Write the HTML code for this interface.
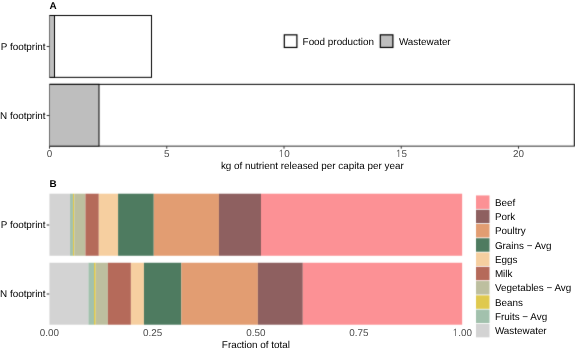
<!DOCTYPE html>
<html><head><meta charset="utf-8"><style>
html,body{margin:0;padding:0;background:#fff;overflow:hidden;}
svg{display:block;}
text{font-family:"Liberation Sans",Arial,sans-serif;text-rendering:geometricPrecision;font-size:9.9px;fill:#000;}
.ax{fill:#4D4D4D;}
.tag{font-weight:bold;}
.one{font-family:NanumGothic,"Liberation Sans",sans-serif;}
</style></head><body>
<svg width="575" height="351" viewBox="0 0 575 351">
<defs>
<filter id="bl" x="0" y="0" width="575" height="351" filterUnits="userSpaceOnUse" color-interpolation-filters="sRGB"><feConvolveMatrix order="3" kernelMatrix="0.0100 0.0800 0.0100 0.0800 0.6400 0.0800 0.0100 0.0800 0.0100" edgeMode="duplicate"/></filter>
<clipPath id="pa"><rect x="49.5" y="0" width="525.5" height="146.8"/></clipPath>
</defs>
<g filter="url(#bl)">
<rect width="575" height="351" fill="#fff"/>
<g stroke="#000" stroke-width="1" clip-path="url(#pa)">
<rect x="49.2" y="15.5" width="102.3" height="61.85" fill="#fff"/>
<rect x="49.2" y="15.5" width="5.3" height="61.85" fill="#BEBEBE"/>
<rect x="49.2" y="84.35" width="525.1" height="61.85" fill="#fff"/>
<rect x="49.2" y="84.35" width="49.8" height="61.85" fill="#BEBEBE"/>
</g>
<g stroke="#333" stroke-width="1">
<line x1="46.7" y1="46.5" x2="49.5" y2="46.5"/>
<line x1="46.7" y1="115.5" x2="49.5" y2="115.5"/>
<line x1="49.5" y1="146.2" x2="49.5" y2="148.7"/>
<line x1="166.75" y1="146.2" x2="166.75" y2="148.7"/>
<line x1="284" y1="146.2" x2="284" y2="148.7"/>
<line x1="401.25" y1="146.2" x2="401.25" y2="148.7"/>
<line x1="518.5" y1="146.2" x2="518.5" y2="148.7"/>
<line x1="46.7" y1="225" x2="49.5" y2="225"/>
<line x1="46.7" y1="294" x2="49.5" y2="294"/>
</g>
<rect x="284.3" y="34.85" width="12.6" height="12.6" fill="#fff" stroke="#000" stroke-width="1.2"/>
<rect x="380.3" y="34.85" width="12.6" height="12.6" fill="#BEBEBE" stroke="#000" stroke-width="1.2"/>
<rect x="49.45" y="193.7" width="20.6" height="62.05" fill="#D3D3D3"/>
<rect x="70.05" y="193.7" width="2.9" height="62.05" fill="#A2C1AD"/>
<rect x="72.95" y="193.7" width="1.3" height="62.05" fill="#DFC94E"/>
<rect x="74.25" y="193.7" width="11.2" height="62.05" fill="#BDBF9F"/>
<rect x="85.45" y="193.7" width="13.35" height="62.05" fill="#B56A5A"/>
<rect x="98.8" y="193.7" width="19.3" height="62.05" fill="#F6CFA0"/>
<rect x="118.1" y="193.7" width="35.65" height="62.05" fill="#4E7B60"/>
<rect x="153.75" y="193.7" width="65.2" height="62.05" fill="#E29D72"/>
<rect x="218.95" y="193.7" width="42.05" height="62.05" fill="#8E6060"/>
<rect x="261" y="193.7" width="201.15" height="62.05" fill="#FC9195"/>
<rect x="49.45" y="262.75" width="38.95" height="61.95" fill="#D3D3D3"/>
<rect x="88.4" y="262.75" width="5.6" height="61.95" fill="#A2C1AD"/>
<rect x="94" y="262.75" width="1.75" height="61.95" fill="#DFC94E"/>
<rect x="95.75" y="262.75" width="12.15" height="61.95" fill="#BDBF9F"/>
<rect x="107.9" y="262.75" width="23" height="61.95" fill="#B56A5A"/>
<rect x="130.9" y="262.75" width="13.05" height="61.95" fill="#F6CFA0"/>
<rect x="143.95" y="262.75" width="37.4" height="61.95" fill="#4E7B60"/>
<rect x="181.35" y="262.75" width="76.55" height="61.95" fill="#E29D72"/>
<rect x="257.9" y="262.75" width="44.9" height="61.95" fill="#8E6060"/>
<rect x="302.8" y="262.75" width="159.35" height="61.95" fill="#FC9195"/>
<rect x="476" y="195.45" width="13.5" height="13.45" fill="#FC9195"/>
<rect x="476" y="209.72" width="13.5" height="13.45" fill="#8E6060"/>
<rect x="476" y="223.99" width="13.5" height="13.45" fill="#E29D72"/>
<rect x="476" y="238.26" width="13.5" height="13.45" fill="#4E7B60"/>
<rect x="476" y="252.53" width="13.5" height="13.45" fill="#F6CFA0"/>
<rect x="476" y="266.8" width="13.5" height="13.45" fill="#B56A5A"/>
<rect x="476" y="281.07" width="13.5" height="13.45" fill="#BDBF9F"/>
<rect x="476" y="295.34" width="13.5" height="13.45" fill="#DFC94E"/>
<rect x="476" y="309.61" width="13.5" height="13.45" fill="#A2C1AD"/>
<rect x="476" y="323.88" width="13.5" height="13.45" fill="#D3D3D3"/>
</g>
<g>
<text class="tag" x="49.4" y="8.6">A</text>
<text x="45.6" y="49.9" text-anchor="end">P footprint</text>
<text x="45.6" y="118.9" text-anchor="end">N footprint</text>
<text class="ax" text-anchor="middle" x="49.5" y="156.9">0</text>
<text class="ax" text-anchor="middle" x="166.75" y="156.9">5</text>
<text class="ax" text-anchor="middle" x="284" y="156.9"><tspan class="one">1</tspan>0</text>
<text class="ax" text-anchor="middle" x="401.25" y="156.9"><tspan class="one">1</tspan>5</text>
<text class="ax" text-anchor="middle" x="518.5" y="156.9">20</text>
<text x="312.3" y="169" text-anchor="middle">kg of nutrient released per capita per year</text>
<text x="302.6" y="44.8">Food production</text>
<text x="398.9" y="44.8">Wastewater</text>
<text class="tag" x="49.4" y="187.2">B</text>
<text x="45.6" y="228.4" text-anchor="end">P footprint</text>
<text x="45.6" y="297.4" text-anchor="end">N footprint</text>
<text class="ax" text-anchor="middle" x="49.45" y="336.4">0.00</text>
<text class="ax" text-anchor="middle" x="152.62" y="336.4">0.25</text>
<text class="ax" text-anchor="middle" x="255.8" y="336.4">0.50</text>
<text class="ax" text-anchor="middle" x="358.97" y="336.4">0.75</text>
<text class="ax" text-anchor="middle" x="462.15" y="336.4"><tspan class="one">1</tspan>.00</text>
<text x="255.9" y="347.6" text-anchor="middle">Fraction of total</text>
<text x="494.9" y="205.75">Beef</text>
<text x="494.9" y="220.02">Pork</text>
<text x="494.9" y="234.29">Poultry</text>
<text x="494.9" y="248.56">Grains − Avg</text>
<text x="494.9" y="262.83">Eggs</text>
<text x="494.9" y="277.1">Milk</text>
<text x="494.9" y="291.37">Vegetables − Avg</text>
<text x="494.9" y="305.64">Beans</text>
<text x="494.9" y="319.91">Fruits − Avg</text>
<text x="494.9" y="334.18">Wastewater</text>
</g>
</svg>
</body></html>
